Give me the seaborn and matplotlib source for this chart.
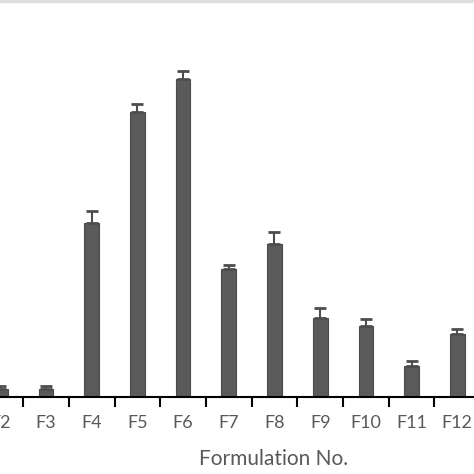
import matplotlib
matplotlib.use("Agg")
import matplotlib.pyplot as plt
import matplotlib.lines as mlines
import seaborn as sns
import pandas as pd
import numpy as np

# values (F1 lies outside the crop, guessed)
formulations = ["F1", "F2", "F3", "F4", "F5", "F6", "F7", "F8", "F9", "F10", "F11", "F12"]
means = [1.5, 1.9, 1.9, 43.8, 71.8, 80.1, 32.2, 38.5, 19.8, 17.8, 7.7, 15.8]
errors = [0.5, 0.8, 0.8, 3.0, 2.0, 2.0, 1.0, 3.0, 2.5, 1.8, 1.3, 1.3]

TEXT = "#595959"
BAR = "#5a5a5a"

df = pd.DataFrame({"formulation": formulations, "value": means, "err": errors})

sns.set_style("white")
plt.rcParams["font.family"] = ["Lato", "DejaVu Sans"]

fig = plt.figure(figsize=(4.74, 4.74), dpi=100)
# the reference is a crop of a wider chart: the axes run off the left edge
ax = fig.add_axes([-68.25 / 474, 77.3 / 474, 548.4 / 474, 396.7 / 474])

sns.barplot(
    ax=ax,
    data=df,
    x="formulation",
    y="value",
    order=formulations,
    color=BAR,
    width=0.32,
    saturation=1,
    edgecolor="#4a4a4a",
    linewidth=0.8,
    errorbar=None,
)
ax.errorbar(
    np.arange(len(formulations)),
    df["value"],
    yerr=[np.zeros(len(df)), df["err"]],
    fmt="none",
    ecolor="#4d4d4d",
    elinewidth=1.5,
    capsize=4.5,
    capthick=2,
)

ax.set_xlim(-0.5, len(formulations) - 0.5)
ax.set_ylim(0, 100)
for side in ["left", "right", "top"]:
    ax.spines[side].set_visible(False)
ax.spines["bottom"].set_color("black")
ax.spines["bottom"].set_linewidth(1.5)
ax.set_yticks([])

ax.set_xticks(np.arange(len(formulations) + 1) - 0.5, minor=True)
ax.tick_params(axis="x", which="minor", bottom=True, length=7, width=1.5,
               color="black", direction="out")
ax.tick_params(axis="x", which="major", bottom=True, length=0, pad=13,
               labelsize=13, labelcolor=TEXT)

ax.set_ylabel("")
ax.set_xlabel("Formulation No.", fontsize=15, color=TEXT)
ax.xaxis.set_label_coords(0.624, -0.157)
ax.xaxis.label.set_va("center")

# faint border line along the top of the crop
fig.add_artist(mlines.Line2D([0, 1], [0.997, 0.997], color="#e0e0e0", linewidth=2.5,
                             transform=fig.transFigure))

fig.savefig("out.png", dpi=100)
